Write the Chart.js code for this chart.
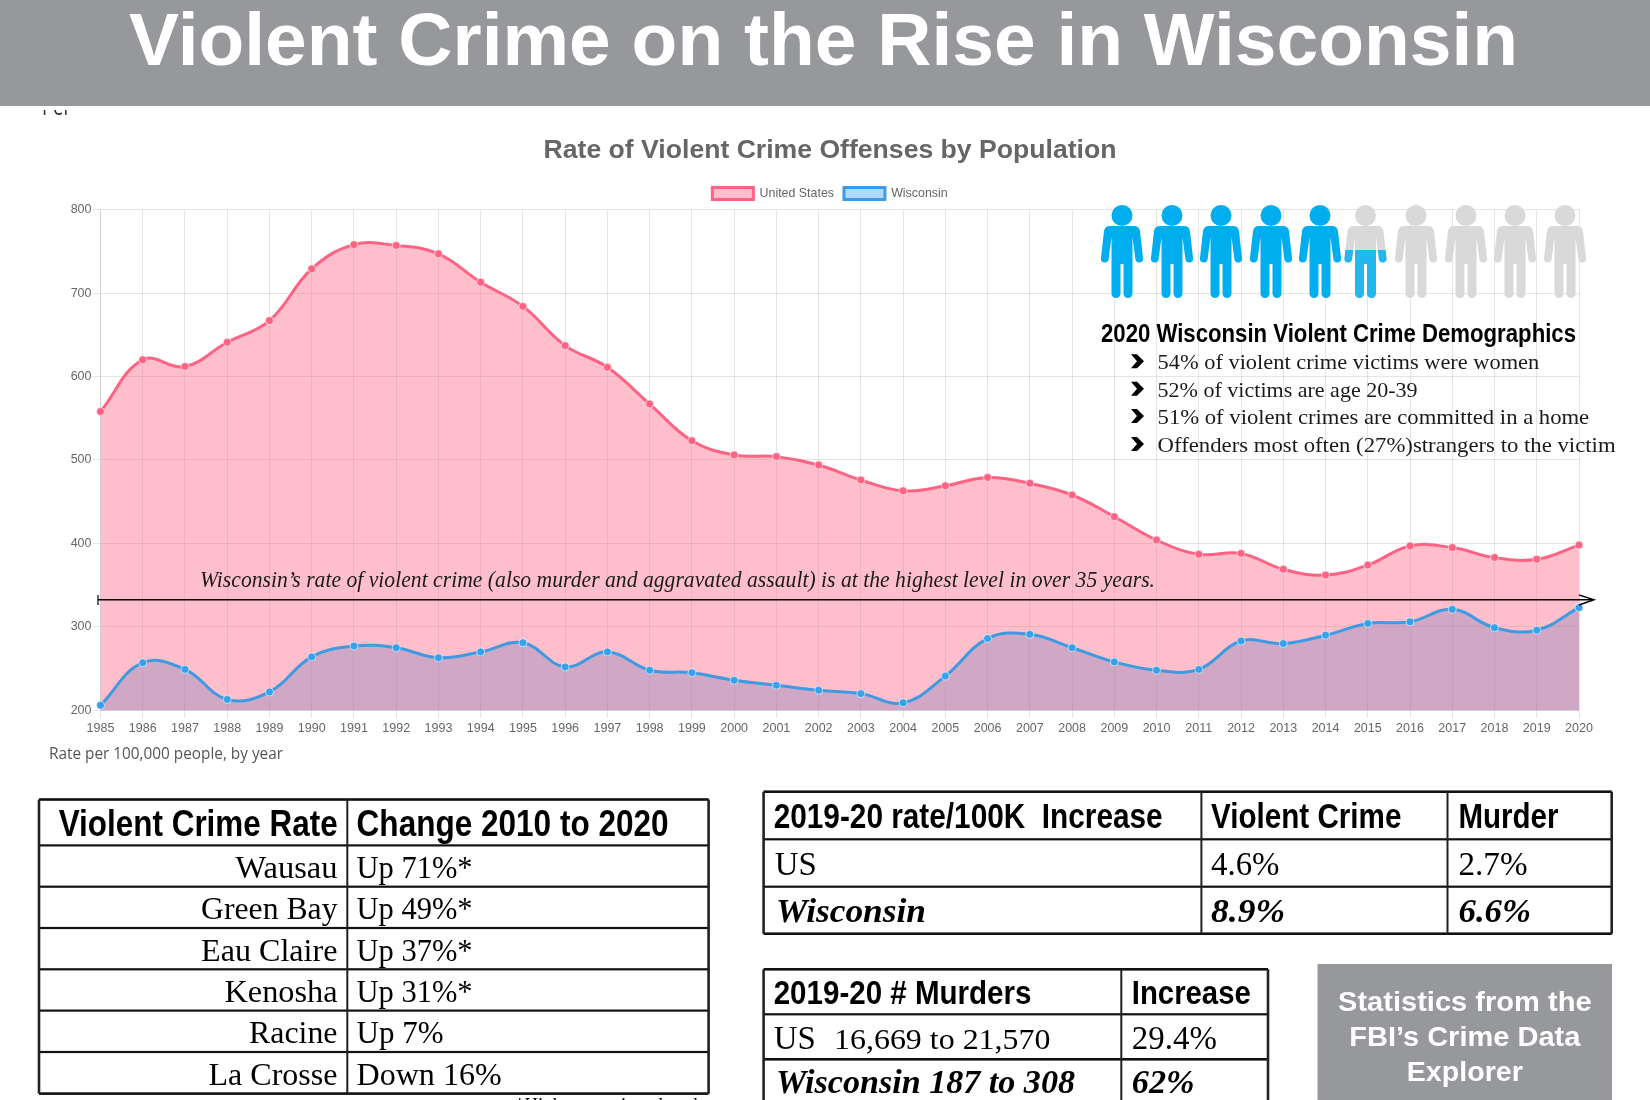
<!DOCTYPE html>
<html>
<head>
<meta charset="utf-8">
<title>Violent Crime on the Rise in Wisconsin</title>
<script src="https://cdn.jsdelivr.net/npm/chart.js@4"></script>
<style>
    html, body { margin: 0; padding: 0; background: #fff; width: 1650px; height: 1100px; overflow: hidden; }
    #chartWrap { position: absolute; left: 0; top: 125px; width: 1660px; height: 620px; }
    #overlay { position: absolute; left: 0; top: 0; }
    #overlay text { white-space: pre; }
</style>
</head>
<body>
<div id="chartWrap"><canvas id="lineChart" width="1660" height="620"></canvas></div>
<svg id="overlay" width="1650" height="1100" viewBox="0 0 1650 1100" xmlns="http://www.w3.org/2000/svg"></svg>

<script>
var years = [1985, 1986, 1987, 1988, 1989, 1990, 1991, 1992, 1993, 1994, 1995, 1996,
    1997, 1998, 1999, 2000, 2001, 2002, 2003, 2004, 2005, 2006, 2007, 2008,
    2009, 2010, 2011, 2012, 2013, 2014, 2015, 2016, 2017, 2018, 2019, 2020];

var unitedStates = [558, 620, 612, 641, 667, 729, 758, 757, 747, 713, 684, 637,
    611, 567, 523, 506, 504, 494, 476, 463, 469, 479, 472, 458,
    432, 404, 387, 388, 369, 362, 374, 397, 395, 383, 381, 398];

var wisconsin = [206, 257, 249, 213, 222, 264, 277, 275, 263, 270, 281, 252,
    270, 248, 245, 236, 230, 224, 220, 209, 241, 286, 291, 275,
    258, 248, 249, 283, 280, 290, 304, 306, 321, 299, 296, 323];

var demographics = [
    '54% of violent crime victims were women',
    '52% of victims are age 20-39',
    '51% of violent crimes are committed in a home',
    'Offenders most often (27%)strangers to the victim'
];

var cityNames = ['Wausau', 'Green Bay', 'Eau Claire', 'Kenosha', 'Racine', 'La Crosse'];
var cityChanges = ['Up 71%*', 'Up 49%*', 'Up 37%*', 'Up 31%*', 'Up 7%', 'Down 16%'];

document.addEventListener('DOMContentLoaded', function () {
    var ctx = document.getElementById('lineChart').getContext('2d');
    Chart.defaults.font.family = '"Liberation Sans", Arial, sans-serif';
    Chart.defaults.color = '#666';

    new Chart(ctx, {
        type: 'line',
        data: {
            labels: years,
            datasets: [
                {
                    label: 'United States',
                    data: unitedStates,
                    borderColor: 'rgb(255, 99, 132)',
                    backgroundColor: 'rgba(255, 99, 132, 0.42)',
                    pointBackgroundColor: 'rgb(255, 99, 132)',
                    pointBorderColor: 'rgba(255, 255, 255, 0.6)',
                    borderWidth: 3,
                    pointRadius: 4,
                    pointBorderWidth: 1,
                    tension: 0.4,
                    fill: true
                },
                {
                    label: 'Wisconsin',
                    data: wisconsin,
                    borderColor: 'rgb(62, 155, 225)',
                    backgroundColor: 'rgba(54, 162, 235, 0.4)',
                    pointBackgroundColor: 'rgb(54, 162, 235)',
                    pointBorderColor: 'rgba(255, 255, 255, 0.6)',
                    borderWidth: 3,
                    pointRadius: 4,
                    pointBorderWidth: 1,
                    tension: 0.4,
                    fill: true
                }
            ]
        },
        options: {
            responsive: false,
            animation: false,
            layout: { padding: 0 },
            plugins: {
                // fills go down first so neither line gets tinted by the other area
                filler: { drawTime: 'beforeDatasetsDraw' },
                title: {
                    display: true,
                    text: 'Rate of Violent Crime Offenses by Population',
                    font: { size: 26.6, weight: 'bold' },
                    color: '#666',
                    padding: { top: 10, bottom: 10.3 }
                },
                legend: {
                    labels: { boxWidth: 41, boxHeight: 12, font: { size: 12.4 }, color: '#666' }
                },
                tooltip: { enabled: false }
            },
            scales: {
                x: {
                    grid: { color: 'rgba(0, 0, 0, 0.1)' },
                    ticks: { autoSkip: false, maxRotation: 0, font: { size: 12.5 } },
                    afterFit: function (scale) { scale.height = 34.7; }
                },
                y: {
                    min: 200,
                    max: 800,
                    grid: { color: 'rgba(0, 0, 0, 0.1)' },
                    ticks: { stepSize: 100, padding: 1, font: { size: 12.5 } },
                    afterFit: function (scale) { scale.width = 100.5; }
                },
                // empty right axis, keeps the plot clear of the title's centre line
                spacer: {
                    position: 'right',
                    grid: { display: false },
                    border: { display: false },
                    ticks: { display: false },
                    afterFit: function (scale) { scale.width = 81; }
                }
            }
        }
    });

    drawOverlay();
});

var SVG_NS = 'http://www.w3.org/2000/svg';
var SANS = '"Liberation Sans", Arial, sans-serif';
var NARROW = '"Liberation Sans Narrow", "Liberation Sans", Arial, sans-serif';
var SERIF = '"Liberation Serif", serif';
var BANNER_GREY = '#97989b';

function el(name, attrs, parent) {
    var node = document.createElementNS(SVG_NS, name);
    Object.keys(attrs).forEach(function (key) { node.setAttribute(key, attrs[key]); });
    (parent || document.getElementById('overlay')).appendChild(node);
    return node;
}

// text squeezed to a set width, anchor keeps start/middle/end behaviour
function label(str, x, y, size, width, opts) {
    opts = opts || {};
    var attrs = {
        x: x, y: y,
        'font-family': opts.family || SERIF,
        'font-size': size,
        fill: opts.fill || '#000',
        'text-anchor': opts.anchor || 'start'
    };
    if (opts.bold) attrs['font-weight'] = 'bold';
    if (opts.italic) attrs['font-style'] = 'italic';
    if (width) {
        attrs.textLength = width;
        attrs.lengthAdjust = 'spacingAndGlyphs';
    }
    var node = el('text', attrs);
    node.textContent = str;
    return node;
}

function rect(x, y, w, h, fill) {
    return el('rect', { x: x, y: y, width: w, height: h, fill: fill });
}

function person(cx, top, color, parent) {
    var g = el('g', { transform: 'translate(' + cx + ',' + top + ')', fill: color }, parent);
    el('circle', { cx: 0, cy: 10.5, r: 10.5 }, g);
    el('path', { d: 'M-12 21 H12 Q17 21 18 26 L21 53 A3.9 3.9 0 0 1 13.5 55 L10.5 32 V88.5 A4.5 4.5 0 0 1 1.5 88.5 V59 H-1.5 V88.5 A4.5 4.5 0 0 1 -10.5 88.5 V32 L-13.5 55 A3.9 3.9 0 0 1 -21 53 L-18 26 Q-17 21 -12 21Z' }, g);
}

function grid(hLines, vLines, x0, x1, y0, y1) {
    hLines.forEach(function (y, i) {
        var t = (i === 0 || i === hLines.length - 1) ? 2.6 : 2.2;
        rect(x0, y - t / 2, x1 - x0, t, '#111');
    });
    vLines.forEach(function (x, i) {
        var t = (i === 0 || i === vLines.length - 1) ? 2.6 : 2;
        rect(x - t / 2, y0, t, y1 - y0, '#222');
    });
}

function drawOverlay() {
    // line of text cut off under the banner, only its lowest few pixels show
    label('Per', 42, 114.5, 25, 29, { family: '"Open Sans", sans-serif', fill: '#333' });
    rect(0, 106, 300, 4, '#fff');

    rect(0, 0, 1650, 106, BANNER_GREY);
    label('Violent Crime on the Rise in Wisconsin', 129, 65, 74, 1389, { family: SANS, bold: true, fill: '#fff' });

    // annotation across the plot
    label('Wisconsin\u2019s rate of violent crime (also murder and aggravated assault) is at the highest level in over 35 years.',
        200, 587.3, 23.5, 955, { italic: true, fill: '#1a1a1a' });
    el('line', { x1: 98, y1: 599.7, x2: 1593, y2: 599.7, stroke: '#000', 'stroke-width': 1.4 });
    el('line', { x1: 98, y1: 595, x2: 98, y2: 605, stroke: '#000', 'stroke-width': 1.2 });
    el('path', { d: 'M1579 595 L1594 599.7 L1579 605', fill: 'none', stroke: '#000', 'stroke-width': 1.4 });

    label('Rate per 100,000 people, by year', 49, 759.3, 15.5, 234, { family: '"Open Sans", sans-serif', fill: '#555' });

    // ten figures, five and a bit coloured in
    var centres = [1122, 1172, 1221, 1271, 1320, 1365.5, 1416, 1466, 1515, 1565];
    var defs = el('defs', {});
    var clip = el('clipPath', { id: 'lowerPart' }, defs);
    el('rect', { x: -30, y: 45, width: 60, height: 60 }, clip);
    centres.forEach(function (cx, i) {
        person(cx, 205, i < 5 ? '#00aeef' : '#d9d9d9');
    });
    var lower = el('g', { transform: 'translate(' + centres[5] + ',205)' });
    person(0, 0, '#22b8ee', el('g', { 'clip-path': 'url(#lowerPart)' }, lower));

    label('2020 Wisconsin Violent Crime Demographics', 1101, 341.7, 26, 475, { family: NARROW, bold: true });
    var bulletY = [369.3, 396.7, 424, 452];
    var bulletW = [381.6, 260, 431.6, 458];
    demographics.forEach(function (line, i) {
        var y = bulletY[i];
        el('path', { d: 'M1131 ' + (y - 15) + ' L1137 ' + (y - 15) + ' L1144 ' + (y - 8) + ' L1137 ' + (y - 1) + ' L1131 ' + (y - 1) + ' L1137 ' + (y - 8) + 'Z', fill: '#000' });
        label(line, 1157.6, y, 22, bulletW[i], { fill: '#1a1a1a' });
    });

    // city table
    grid([799.5, 845.4, 886.7, 928, 969.3, 1010.6, 1052, 1093.6], [39, 347.3, 708.6], 39, 708.6, 799.5, 1093.6);
    label('Violent Crime Rate', 58.7, 836, 36, 279, { family: NARROW, bold: true });
    label('Change 2010 to 2020', 356.6, 836, 36, 312, { family: NARROW, bold: true });
    var cityY = [878, 919.3, 961, 1002.3, 1043.3, 1085];
    var cityW = [102, 136.4, 136.4, 113, 88.5, 129];
    var changeW = [116, 116, 116, 116, 87, 145];
    cityNames.forEach(function (name, i) {
        label(name, 337.5 - cityW[i], cityY[i], 31, cityW[i]);
        label(cityChanges[i], 356.6, cityY[i], 31, changeW[i]);
    });
    label('*Highest rate in a decade', 515, 1112, 22, 191);

    // rate increase table
    grid([791.7, 839.3, 886.7, 933.7], [763.6, 1201.4, 1447.5, 1611.7], 763.6, 1611.7, 791.7, 933.7);
    label('2019-20 rate/100K  Increase', 773.7, 828.3, 35, 389, { family: NARROW, bold: true });
    label('Violent Crime', 1211, 828.3, 35, 190.4, { family: NARROW, bold: true });
    label('Murder', 1458.5, 828.3, 35, 100, { family: NARROW, bold: true });
    label('US', 774.8, 875, 33, 42);
    label('4.6%', 1211, 875, 33, 68.5);
    label('2.7%', 1458.5, 875, 33, 69);
    label('Wisconsin', 776, 922.3, 33, 150, { bold: true, italic: true });
    label('8.9%', 1211, 922.3, 33, 74, { bold: true, italic: true });
    label('6.6%', 1458.5, 922.3, 33, 72.5, { bold: true, italic: true });

    // murder count table, runs off the bottom edge
    grid([969.3, 1014.3, 1059.3], [763.6, 1121.3, 1268], 763.6, 1268, 969.3, 1110);
    label('2019-20 # Murders', 773.7, 1004, 33.5, 257.7, { family: NARROW, bold: true });
    label('Increase', 1131.8, 1004, 33.5, 119, { family: NARROW, bold: true });
    label('US', 773.7, 1049.3, 33, 42);
    label('16,669 to 21,570', 834, 1049.3, 30, 216.5);
    label('29.4%', 1131.8, 1049.3, 33, 85);
    label('Wisconsin 187 to 308', 776, 1093.3, 33, 299, { bold: true, italic: true });
    label('62%', 1131.8, 1093.3, 33, 62.7, { bold: true, italic: true });

    rect(1317.5, 964, 294.5, 136, BANNER_GREY);
    label('Statistics from the', 1464.8, 1010.7, 28, 253.6, { family: SANS, bold: true, fill: '#fff', anchor: 'middle' });
    label('FBI\u2019s Crime Data', 1464.8, 1045.7, 28, 231, { family: SANS, bold: true, fill: '#fff', anchor: 'middle' });
    label('Explorer', 1464.8, 1080.7, 28, 116, { family: SANS, bold: true, fill: '#fff', anchor: 'middle' });
}
</script>
</body>
</html>
